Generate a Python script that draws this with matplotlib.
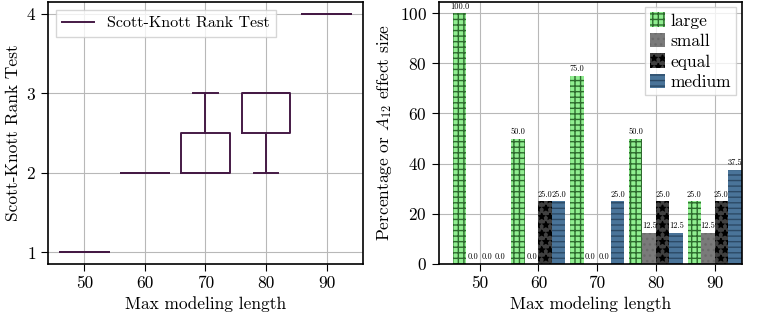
import matplotlib
matplotlib.use("Agg")
import matplotlib.pyplot as plt
import numpy as np
from matplotlib.lines import Line2D

plt.rcParams.update({
    "font.family": "serif",
    "font.serif": ["cmr10", "DejaVu Serif"],
    "mathtext.fontset": "cm",
    "axes.formatter.use_mathtext": True,
    "font.size": 12.5,
    "xtick.labelsize": 12.5,
    "ytick.labelsize": 12.5,
    "xtick.major.size": 5,
    "ytick.major.size": 5,
    "hatch.linewidth": 1.0,
})

lengths = [50, 60, 70, 80, 90]

# Scott-Knott rank summary per max modeling length
sk_q1 = [1, 2, 2, 2.5, 4]
sk_med = [1, 2, 2, 3, 4]
sk_q3 = [1, 2, 2.5, 3, 4]
sk_lo = [1, 2, 2, 2, 4]
sk_hi = [1, 2, 3, 3, 4]

# A12 effect size percentages
categories = ["large", "small", "equal", "medium"]
large = [100.0, 50.0, 75.0, 50.0, 25.0]
small = [0.0, 0.0, 0.0, 12.5, 12.5]
equal = [0.0, 25.0, 0.0, 25.0, 25.0]
medium = [0.0, 25.0, 25.0, 12.5, 37.5]

line_col = "#451a45"

fig = plt.figure(figsize=(7.59, 3.18), dpi=100)
ax1 = fig.add_axes([0.0632, 0.170, 0.415, 0.824])
ax2 = fig.add_axes([0.578, 0.170, 0.399, 0.824])

stats = []
for q1, med, q3, lo, hi in zip(sk_q1, sk_med, sk_q3, sk_lo, sk_hi):
    stats.append({"q1": q1, "med": med, "q3": q3, "whislo": lo, "whishi": hi, "fliers": []})
props = dict(color=line_col, linewidth=1.4)
ax1.bxp(stats, positions=lengths, widths=8, showfliers=False,
        boxprops=props, medianprops=props, whiskerprops=props, capprops=props)
ax1.set_xlim(44, 96)
ax1.set_ylim(0.85, 4.15)
ax1.set_xticks(lengths)
ax1.set_xticklabels([str(v) for v in lengths])
ax1.set_yticks([1, 2, 3, 4])
ax1.set_xlabel("Max modeling length")
ax1.set_ylabel("Scott-Knott Rank Test")
ax1.grid(True, color="#b8b8b8", linewidth=0.8)
ax1.set_axisbelow(True)
ax1.legend([Line2D([], [], color=line_col, linewidth=1.4)], ["Scott-Knott Rank Test"],
           loc="upper left", fancybox=False, edgecolor="#cccccc", fontsize=11.5,
           borderaxespad=0.5)

# grouped bars
series = [large, small, equal, medium]
colors = ["#90ee90", "#7a7a7a", "#404040", "#4a7499"]
edges = ["#2e6b2e", "#6a6a6a", "#000000", "#2c4a66"]
hatches = ["+++", "...", "**", "---"]
w = 2.3
offsets = [-1.5 * w, -0.5 * w, 0.5 * w, 1.5 * w]
x = np.array(lengths, dtype=float)
for vals, c, e, h, off, name in zip(series, colors, edges, hatches, offsets, categories):
    bars = ax2.bar(x + off, vals, w, color=c, edgecolor=e, hatch=h, linewidth=0, label=name)
    for b, v in zip(bars, vals):
        ax2.text(b.get_x() + b.get_width() / 2, v + 1.0, f"{v:.1f}",
                 ha="center", va="bottom", fontsize=6)
ax2.set_xlim(43, 94.6)
ax2.set_ylim(0, 104.5)
ax2.set_xticks(lengths)
ax2.set_xticklabels([str(v) for v in lengths])
ax2.set_yticks([0, 20, 40, 60, 80, 100])
ax2.set_xlabel("Max modeling length")
ax2.set_ylabel("Percentage or $A_{12}$ effect size")
ax2.grid(True, color="#b8b8b8", linewidth=0.8)
ax2.set_axisbelow(True)
ax2.legend(loc="upper right", fancybox=False, edgecolor="#cccccc", fontsize=12.5,
           handlelength=0.9, handleheight=0.9, handletextpad=0.3, borderaxespad=0.3,
           labelspacing=0.25, borderpad=0.3)

for ax in (ax1, ax2):
    for s in ax.spines.values():
        s.set_linewidth(1.2)

fig.savefig("out.png", dpi=100)
